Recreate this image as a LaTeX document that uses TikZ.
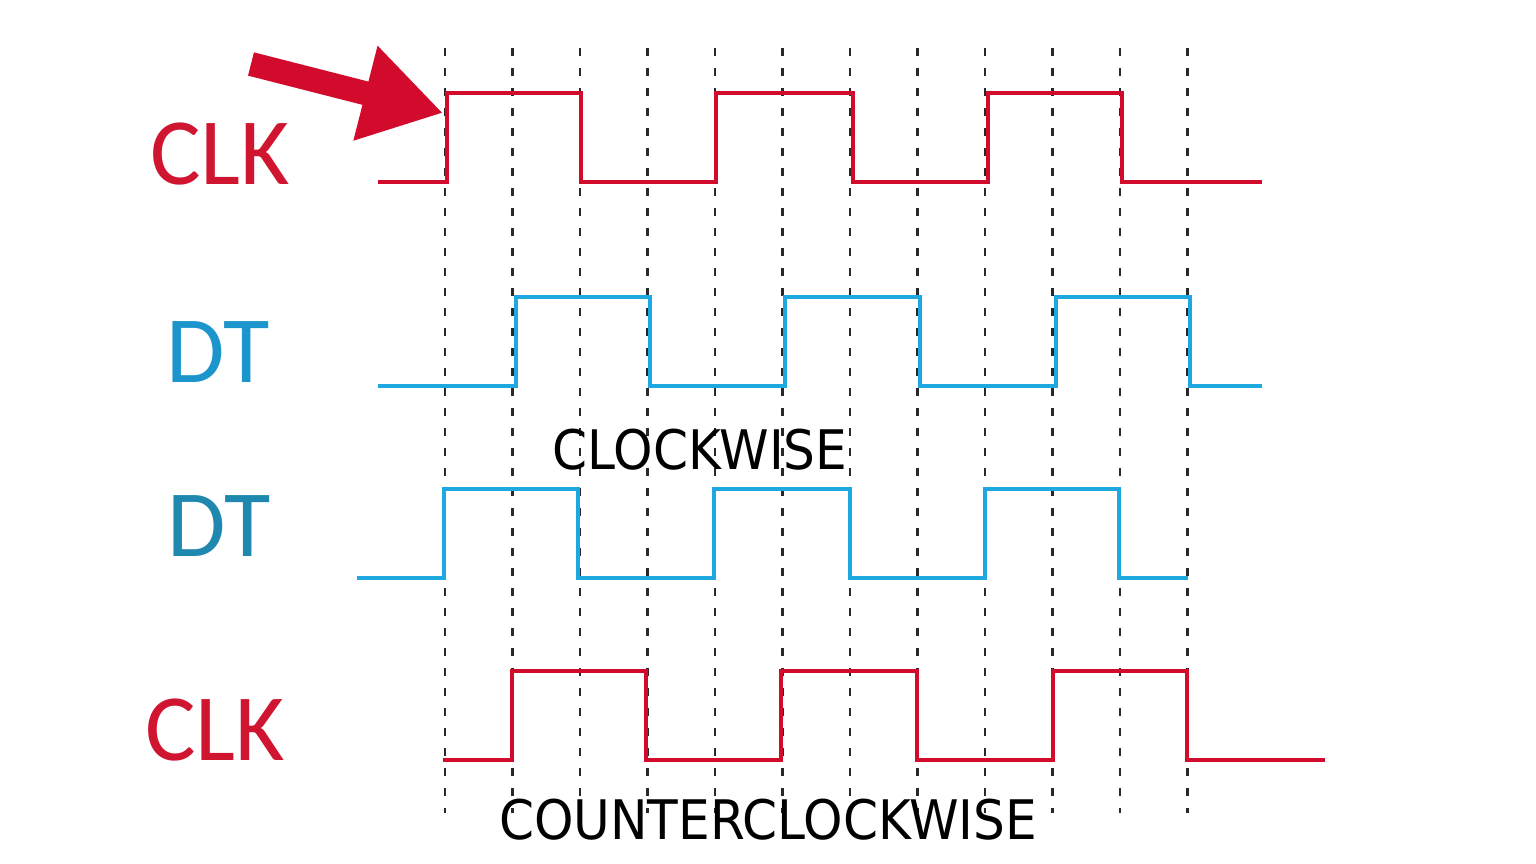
\documentclass[tikz,border=0pt]{standalone}
\usepackage{fontspec}
\setmainfont{Carlito}
\newfontfamily\wavefont[FakeStretch=0.92]{DejaVu Sans}
\usepackage{xcolor}
\usetikzlibrary{arrows.meta}

\definecolor{clkred}{HTML}{D20A2C}
\definecolor{clklabel}{HTML}{CF1530}
\definecolor{dtblue}{HTML}{1DA9E0}
\definecolor{dtlabel}{HTML}{1B95CB}
\definecolor{dtlabeldark}{HTML}{1F88AE}
\definecolor{guidegray}{HTML}{282828}

\begin{document}
\begin{tikzpicture}[x=0.01cm, y=-0.01cm,
    wave/.style={line width=0.045cm, line join=miter},
    guide/.style={guidegray, line width=0.025cm, dash pattern=on 0.08cm off 0.12cm},
    siglabel/.style={anchor=base, inner sep=0pt, font=\fontsize{27}{30}\selectfont},
    dirlabel/.style={anchor=base, inner sep=0pt, font=\wavefont\fontsize{15.5}{18}\selectfont},
    bigarrow/.style={clkred, line width=0.24cm, -{Triangle[length=0.8cm, width=0.92cm]}}]
        \useasboundingbox (0,0) rectangle (1536,864);

        % time grid
        \foreach \k in {0,...,11}
            \draw[guide] ({445+67.5*\k},48) -- ({445+67.5*\k},813);

        % clockwise
        \draw[wave, clkred] (378,182) -| (447,93) -| (581,182) -| (716,93) -| (853,182) -| (988,93) -| (1122,182) -- (1262,182);
        \draw[wave, dtblue] (378,386) -| (516,297) -| (650,386) -| (785,297) -| (920,386) -| (1056,297) -| (1190,386) -- (1262,386);

        % counterclockwise
        \draw[wave, dtblue] (357,578) -| (444,489) -| (578,578) -| (714,489) -| (850,578) -| (985,489) -| (1119,578) -- (1188,578);
        \draw[wave, clkred] (443,760) -| (512,671) -| (646,760) -| (781,671) -| (917,760) -| (1053,671) -| (1187,760) -- (1325,760);

        \node[siglabel, text=clklabel] (clka) at (220,185) {CLK};
        \node[siglabel, text=dtlabel] (dta) at (218,383) {DT};
        \node[siglabel, text=dtlabeldark] (dtb) at (219,557) {DT};
        \node[siglabel, text=clklabel] (clkb) at (215,760) {CLK};

        \node[dirlabel] (cw) at (700,470) {CLOCKWISE};
        \node[dirlabel] (ccw) at (768,839) {COUNTERCLOCKWISE};

        \coordinate (tail) at (251,64);
        \coordinate (edge) at (443,113);
        \draw[bigarrow] (tail) -- (edge);

      \end{tikzpicture}
\end{document}
